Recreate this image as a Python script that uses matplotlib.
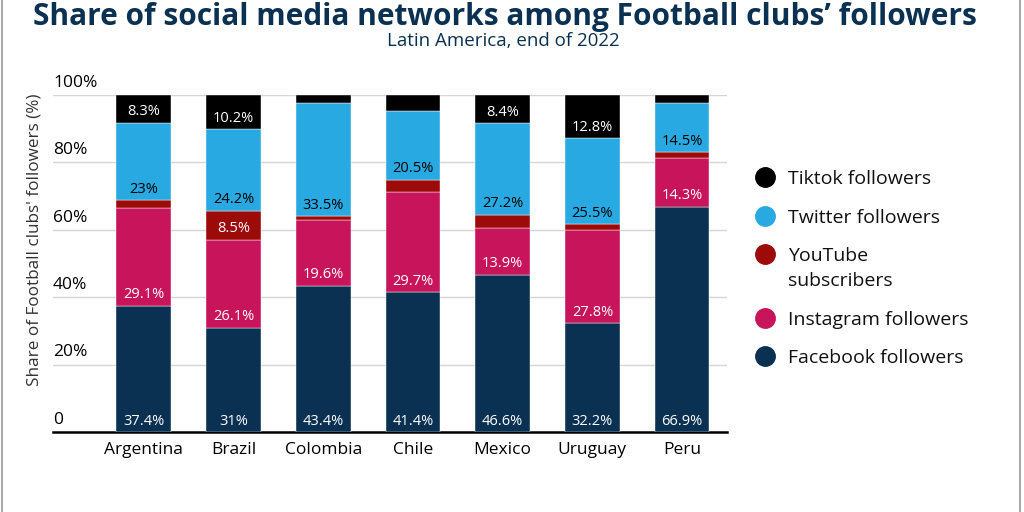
import matplotlib.pyplot as plt
from matplotlib.lines import Line2D
import numpy as np

countries = ["Argentina", "Brazil", "Colombia", "Chile", "Mexico", "Uruguay", "Peru"]
facebook = [37.4, 31, 43.4, 41.4, 46.6, 32.2, 66.9]
instagram = [29.1, 26.1, 19.6, 29.7, 13.9, 27.8, 14.3]
youtube = [2.2, 8.5, 1.0, 3.7, 3.9, 1.7, 1.8]
twitter = [23, 24.2, 33.5, 20.5, 27.2, 25.5, 14.5]
tiktok = [8.3, 10.2, 2.5, 4.7, 8.4, 12.8, 2.5]

series = [
    ("Facebook followers", facebook, "#0b3152", "white"),
    ("Instagram followers", instagram, "#c8145a", "white"),
    ("YouTube\nsubscribers", youtube, "#9c0a0a", "white"),
    ("Twitter followers", twitter, "#29a9e1", "black"),
    ("Tiktok followers", tiktok, "#000000", "white"),
]

plt.rcParams['font.family'] = ['Open Sans', 'DejaVu Sans']
navy = "#0b3152"

fig = plt.figure(figsize=(10.24, 5.12), dpi=100)
ax = fig.add_axes([53 / 1024, 1 - 432 / 512, (727 - 53) / 1024, (432 - 95) / 512])

x = np.arange(len(countries))
bottom = np.zeros(len(countries))
for name, vals, col, tcol in series:
    vals = np.array(vals, dtype=float)
    ax.bar(x, vals, 0.61, bottom=bottom, color=col, edgecolor="#ffffff",
           linewidth=0.3, zorder=3)
    for i, v in enumerate(vals):
        if v >= 8:
            lab = f"{v:g}%"
            ax.annotate(lab, (x[i], bottom[i]), xytext=(0, 2.5), textcoords="offset points",
                        ha="center", va="bottom", fontsize=10.5, color=tcol, zorder=4)
    bottom += vals

ax.set_xlim(-1.01, 6.5)
ax.set_ylim(0, 100)
for s in ["top", "right", "left"]:
    ax.spines[s].set_visible(False)
ax.spines["bottom"].set_linewidth(1.8)
ax.spines["bottom"].set_color("black")
ax.set_yticks([0, 20, 40, 60, 80, 100])
ax.set_yticklabels([])
ax.tick_params(axis="y", length=0)
ax.grid(axis="y", color="#d5d5d5", linewidth=1, zorder=0)
for t in [0, 20, 40, 60, 80, 100]:
    lab = "0" if t == 0 else f"{t}%"
    ax.annotate(lab, (-1.01, t), xytext=(0, 3), textcoords="offset points",
                ha="left", va="bottom", fontsize=12.5, color="black")
ax.set_xticks(x)
ax.set_xticklabels(countries, fontsize=12.5)
ax.tick_params(axis="x", length=0, pad=7)

fig.text(35 / 1024, 1 - 240 / 512, "Share of Football clubs' followers (%)", rotation=90,
         ha="center", va="center", fontsize=12.3, color="#333333")

fig.text(505 / 1024, 1 - 25 / 512, "Share of social media networks among Football clubs\u2019 followers",
         ha="center", va="baseline", fontsize=21.5, fontweight="bold", color=navy)
fig.text(503 / 1024, 1 - 41 / 512, "Latin America, end of 2022", ha="center", va="center",
         fontsize=13.5, color=navy)

# legend
leg_items = [
    ("Tiktok followers", "#000000", 177),
    ("Twitter followers", "#29a9e1", 216),
    ("YouTube\nsubscribers", "#9c0a0a", 254),
    ("Instagram followers", "#c8145a", 318),
    ("Facebook followers", "#0b3152", 356),
]
for lab, col, yy in leg_items:
    fy = 1 - yy / 512
    fig.add_artist(Line2D([765 / 1024], [fy], marker="o", markersize=14, color=col,
                          linestyle="none", transform=fig.transFigure))
    fig.text(788 / 1024, fy + 0.0145, lab, ha="left", va="top", fontsize=14,
             color="#111111", linespacing=1.5)

# frame
fig.add_artist(Line2D([2 / 1024, 2 / 1024], [0, 1], color="#aaaaaa", lw=1.5,
                      transform=fig.transFigure))
fig.add_artist(Line2D([1020 / 1024, 1020 / 1024], [0, 1], color="#aaaaaa", lw=1.5,
                      transform=fig.transFigure))

fig.savefig("out.png", dpi=100)
